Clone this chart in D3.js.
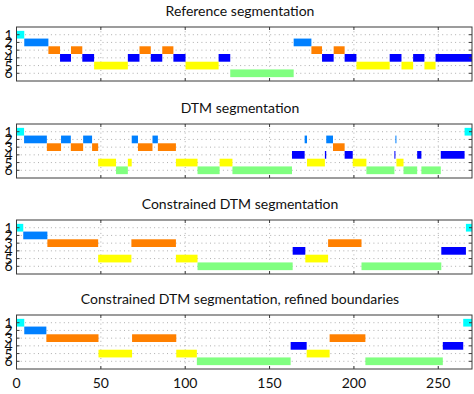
<!DOCTYPE html>
<html>
<head>
<meta charset="utf-8">
<script src="https://cdn.jsdelivr.net/npm/d3@7"></script>
<style>
  body { margin: 0; background: #fff; }
  text { font-family: Lato, "Open Sans", sans-serif; fill: #111; }
</style>
</head>
<body>
<div id="container"></div>
<script>

// segment boundaries (frames) and the state of each segment, one pair per panel
var refBounds = [0, 4.6, 18.9, 25.8, 32.3, 39, 46, 66, 72.9, 79.6, 86.4, 93, 100.2, 119.8, 126.7, 164.3, 174.8, 181.1, 188, 194.5, 201.5, 221.2, 228.2, 235.1, 241.8, 248.4, 270];
var refStates = [1, 2, 3, 4, 3, 4, 5, 4, 3, 4, 3, 4, 5, 4, 6, 2, 3, 4, 3, 4, 5, 4, 5, 4, 5, 4];

var dtmBounds = [0, 4.5, 18, 26.4, 32.2, 39.5, 44.8, 48.4, 59, 66, 68.3, 72, 80.6, 83.8, 94.5, 107.3, 120.4, 128, 163.3, 170.8, 172.2, 182.8, 183.6, 187.6, 194.5, 199.3, 207.4, 224, 224.6, 225.2, 229.4, 237.5, 240, 251.5, 265.6, 270];
var dtmStates = [1, 2, 3, 2, 3, 2, 3, 5, 6, 5, 2, 3, 2, 3, 5, 6, 5, 6, 4, 2, 5, 4, 2, 3, 4, 5, 6, 4, 2, 5, 6, 4, 6, 4, 1];

var conBounds = [0, 4, 18.3, 48.4, 68.1, 94.5, 107.3, 163.7, 171.2, 184.7, 204.5, 251.8, 266.4, 270];
var conStates = [1, 2, 3, 5, 3, 5, 6, 4, 5, 3, 6, 4, 1];

var refinedBounds = [0, 4.6, 17.7, 48.6, 68.5, 94.7, 106.9, 162.5, 172, 185.6, 206.8, 252.7, 264.8, 270];
var refinedStates = [1, 2, 3, 5, 3, 5, 6, 4, 5, 3, 6, 4, 1];

var panelTitles = ["Reference segmentation", "DTM segmentation", "Constrained DTM segmentation", "Constrained DTM segmentation, refined boundaries"];
var stateLabels = [1, 2, 3, 4, 5, 6];
var xTicks = [0, 50, 100, 150, 200, 250];
var stateColors = ["#00ffff", "#0080ff", "#ff8000", "#0000ff", "#ffff00", "#80ff80"];

var panels = [
  { title: panelTitles[0], bounds: refBounds, states: refStates },
  { title: panelTitles[1], bounds: dtmBounds, states: dtmStates },
  { title: panelTitles[2], bounds: conBounds, states: conStates },
  { title: panelTitles[3], bounds: refinedBounds, states: refinedStates }
];

var width = 474, height = 394;
var left = 16.5, right = 472;
var panelTops = [27, 124, 220, 315];
var panelH = 54;

var svg = d3.select("#container").append("svg")
  .attr("width", width)
  .attr("height", height);

var x = d3.scaleLinear().domain([0, 270]).range([left, right]);
var color = d3.scaleOrdinal().domain(stateLabels).range(stateColors);

panels.forEach(function(p, i) {
  var top = panelTops[i];
  var y = d3.scaleLinear().domain([0, 7]).range([top, top + panelH]);

  // turn boundaries into segments
  var segs = p.states.map(function(s, k) {
    return { start: p.bounds[k], end: p.bounds[k + 1], state: s };
  });

  var g = svg.append("g");

  // dotted grid
  g.selectAll("line.hgrid").data(stateLabels).enter().append("line")
    .attr("x1", left).attr("x2", right)
    .attr("y1", function(d) { return y(d); })
    .attr("y2", function(d) { return y(d); })
    .style("stroke", "#9a9a9a")
    .style("stroke-width", 0.8)
    .style("stroke-dasharray", "1,3.3");

  g.selectAll("line.vgrid").data(xTicks.slice(1)).enter().append("line")
    .attr("y1", top).attr("y2", top + panelH)
    .attr("x1", function(d) { return x(d); })
    .attr("x2", function(d) { return x(d); })
    .style("stroke", "#9a9a9a")
    .style("stroke-width", 0.8)
    .style("stroke-dasharray", "1,3.3");

  g.selectAll("rect.seg").data(segs).enter().append("rect")
    .attr("x", function(d) { return x(d.start); })
    .attr("width", function(d) { return Math.max(1, x(d.end) - x(d.start)); })
    .attr("y", function(d) { return y(d.state - 0.5); })
    .attr("height", function(d) { return y(1) - y(0); })
    .style("fill", function(d) { return color(d.state); });

  // frame
  g.append("rect")
    .attr("x", left).attr("y", top)
    .attr("width", right - left).attr("height", panelH)
    .style("fill", "none")
    .style("stroke", "#3a3a3a")
    .style("stroke-width", 1);

  // ticks pointing inward on all four sides
  var tl = 3;
  g.selectAll("line.xt").data(xTicks.slice(1)).enter().append("line")
    .attr("x1", function(d) { return x(d); })
    .attr("x2", function(d) { return x(d); })
    .attr("y1", top).attr("y2", top + tl)
    .style("stroke", "#3a3a3a");
  g.selectAll("line.xb").data(xTicks.slice(1)).enter().append("line")
    .attr("x1", function(d) { return x(d); })
    .attr("x2", function(d) { return x(d); })
    .attr("y1", top + panelH).attr("y2", top + panelH - tl)
    .style("stroke", "#3a3a3a");
  g.selectAll("line.yl").data(stateLabels).enter().append("line")
    .attr("x1", left).attr("x2", left + tl)
    .attr("y1", function(d) { return y(d); })
    .attr("y2", function(d) { return y(d); })
    .style("stroke", "#3a3a3a");
  g.selectAll("line.yr").data(stateLabels).enter().append("line")
    .attr("x1", right).attr("x2", right - tl)
    .attr("y1", function(d) { return y(d); })
    .attr("y2", function(d) { return y(d); })
    .style("stroke", "#3a3a3a");

  g.selectAll("text.yl").data(stateLabels).enter().append("text")
    .attr("x", left - 4)
    .attr("y", function(d) { return y(d); })
    .attr("dy", "0.36em")
    .attr("text-anchor", "end")
    .style("font-size", "14px")
    .text(function(d) { return d; });

  g.append("text")
    .attr("x", 240)
    .attr("y", top - 11)
    .attr("text-anchor", "middle")
    .style("font-size", "14px")
    .text(p.title);

  if (i == panels.length - 1) {
    g.selectAll("text.xl").data(xTicks).enter().append("text")
      .attr("x", function(d) { return x(d); })
      .attr("y", top + panelH + 19)
      .attr("text-anchor", "middle")
      .style("font-size", "14px")
      .text(function(d) { return d; });
  }
});

</script>
</body>
</html>
